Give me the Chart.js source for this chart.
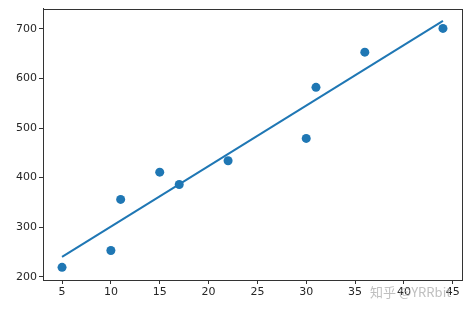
<!DOCTYPE html>
<html><head><meta charset="utf-8">
<script src="https://cdn.jsdelivr.net/npm/chart.js@4/dist/chart.umd.min.js"></script>
<style>html,body{margin:0;padding:0;background:#fff}#wrap{width:474px;height:312px}</style>
</head><body><div id="wrap"><canvas id="c"></canvas></div>
<script>
const pointX = [5, 10, 11, 15, 17, 22, 30, 31, 36, 44];
const pointY = [219, 253, 356, 411, 386, 434, 479, 582, 653, 701];
const lineX = [5, 44];
const lineY = [240, 716];
const xTicks = [5, 10, 15, 20, 25, 30, 35, 40, 45];
const yTicks = [200, 300, 400, 500, 600, 700];
const watermark = '知乎 @YRRbit';

const blue = '#1f77b4';
const frame = {
  id: 'frame',
  afterDatasetsDraw(chart) {
    const {ctx, chartArea: a} = chart;
    ctx.save();
    ctx.strokeStyle = '#333';
    ctx.lineWidth = 1;
    ctx.strokeRect(Math.round(a.left) + 0.5, Math.round(a.top) + 0.5, Math.round(a.right - a.left), Math.round(a.bottom - a.top));
    ctx.restore();
  },
  afterDraw(chart) {
    const ctx = chart.ctx;
    ctx.save();
    ctx.font = '13px "Noto Sans CJK SC", sans-serif';
    ctx.fillStyle = 'rgba(170,170,170,0.75)';
    ctx.textBaseline = 'middle';
    ctx.fillText(watermark, 370, 292);
    ctx.restore();
  }
};

new Chart(document.getElementById('c'), {
  type: 'scatter',
  data: {
    datasets: [
      {
        type: 'line',
        data: lineX.map((x, i) => ({x, y: lineY[i]})),
        borderColor: blue, borderWidth: 2, pointRadius: 0, fill: false, order: 2
      },
      {
        data: pointX.map((x, i) => ({x, y: pointY[i]})),
        backgroundColor: blue, borderColor: blue, pointRadius: 4.5, pointBorderWidth: 0, order: 1
      }
    ]
  },
  options: {
    responsive: true, maintainAspectRatio: false, animation: false,
    layout: {padding: {left: 0, right: 12, top: 8, bottom: 0}},
    plugins: {legend: {display: false}, tooltip: {enabled: false}},
    scales: {
      x: {
        type: 'linear', min: 3.05, max: 45.95,
        afterBuildTicks: s => { s.ticks = xTicks.map(v => ({value: v})); },
        afterFit: s => { s.height = 32; },
        grid: {drawOnChartArea: false, drawTicks: true, tickLength: 4, color: '#333'},
        border: {display: true, color: '#333'},
        ticks: {color: '#262626', font: {family: 'DejaVu Sans', size: 11}, padding: 2, maxRotation: 0}
      },
      y: {
        type: 'linear', min: 193.4, max: 740.9,
        afterBuildTicks: s => { s.ticks = yTicks.map(v => ({value: v})); },
        afterFit: s => { s.width = 43; },
        grid: {drawOnChartArea: false, drawTicks: true, tickLength: 4, color: '#333'},
        border: {display: true, color: '#333'},
        ticks: {color: '#262626', font: {family: 'DejaVu Sans', size: 11}, padding: 2}
      }
    }
  },
  plugins: [frame]
});
</script></body></html>
